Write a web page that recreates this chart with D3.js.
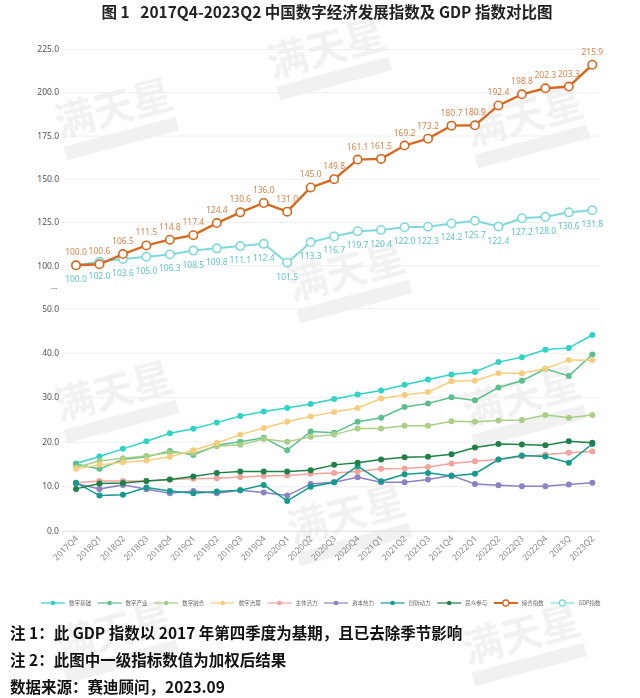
<!DOCTYPE html>
<html><head><meta charset="utf-8">
<script src="https://cdn.jsdelivr.net/npm/d3@7"></script>
<style>
html,body{margin:0;padding:0;background:#fff;}
svg{display:block;font-family:"Noto Sans CJK SC","Noto Sans",sans-serif;}
</style></head>
<body><svg id="c" width="640" height="698"></svg>
<script>
const categories = ["2017Q4","2018Q1","2018Q2","2018Q3","2018Q4","2019Q1","2019Q2","2019Q3","2019Q4","2020Q1","2020Q2","2020Q3","2020Q4","2021Q1","2021Q2","2021Q3","2021Q4","2022Q1","2022Q2","2022Q3","2022Q4","2023Q","2023Q2"];
const compositeIndex = [100.0,100.6,106.5,111.5,114.8,117.4,124.4,130.6,136.0,131.0,145.0,149.8,161.1,161.5,169.2,173.2,180.7,180.9,192.4,198.8,202.3,203.3,215.9];
const gdpIndex = [100.0,102.0,103.6,105.0,106.3,108.5,109.8,111.1,112.4,101.5,113.3,116.7,119.7,120.4,122.0,122.3,124.2,125.7,122.4,127.2,128.0,130.6,131.8];
const digitalBase = [15.1,16.7,18.4,20.1,21.9,22.9,24.3,25.8,26.8,27.6,28.5,29.6,30.6,31.5,32.8,34.0,35.1,35.7,37.9,39.0,40.7,41.1,44.0];
const digitalIndustry = [15.0,13.9,16.0,16.6,17.9,17.0,19.2,20.0,20.9,18.1,22.3,22.0,24.5,25.4,27.8,28.6,30.0,29.3,32.2,33.7,36.4,34.8,39.6];
const digitalFusion = [14.2,15.7,16.3,16.8,17.6,17.4,19.0,19.3,20.6,20.0,21.1,21.6,23.0,23.0,23.6,23.6,24.6,24.5,24.8,24.9,26.0,25.4,26.0];
const digitalGovernance = [13.9,14.8,15.4,15.8,16.6,18.1,19.7,21.6,23.1,24.5,25.7,26.7,27.6,29.7,30.5,31.2,33.6,33.7,35.4,35.4,36.4,38.4,38.3];
const entityVitality = [10.8,11.2,11.2,11.2,11.5,11.7,11.8,12.1,12.3,12.4,12.8,13.0,13.3,13.9,14.0,14.3,15.1,15.6,16.0,16.7,17.1,17.5,17.8];
const capitalHeat = [10.6,9.4,10.3,9.3,8.4,8.9,8.4,9.1,8.6,7.9,10.5,10.9,12.0,10.9,10.9,11.5,12.4,10.5,10.2,10.0,10.0,10.4,10.8];
const innovationPower = [10.8,7.9,8.1,9.7,8.9,8.4,8.8,9.1,10.3,6.7,9.9,10.9,14.5,11.1,12.7,13.0,12.3,12.8,16.0,16.9,16.7,15.3,19.5];
const publicParticipation = [9.4,10.6,10.7,11.2,11.5,12.2,13.0,13.3,13.3,13.3,13.6,14.8,15.3,16.0,16.5,16.6,17.2,18.7,19.5,19.4,19.2,20.1,19.8];
const upperTicks = [100,125,150,175,200,225];
const lowerTicks = [0,10,20,30,40,50];
const seriesNames = ["数字基础","数字产业","数字融合","数字治理","主体活力","资本热力","创新动力","民众参与","综合指数","GDP指数"];
const title = "图 1\u00a0\u00a0\u00a02017Q4-2023Q2 中国数字经济发展指数及 GDP 指数对比图";
const notes = ["注 1：此 GDP 指数以 2017 年第四季度为基期，且已去除季节影响","注 2：此图中一级指标数值为加权后结果","数据来源：赛迪顾问，2023.09"];

const colors = ["#2fd3c8","#5dbf8c","#a8cf85","#f5cd7c","#f2a39a","#8c82c2","#159a8f","#1f8048","#d6691f","#7fd9dc"];
const lowerData = [digitalBase,digitalIndustry,digitalFusion,digitalGovernance,entityVitality,capitalHeat,innovationPower,publicParticipation];

const svg = d3.select("#c");
svg.append("rect").attr("width",640).attr("height",698).attr("fill","#fff");

// watermarks
const wm = [[330,62],[117,122],[528,130],[350,285],[117,405],[525,410],[350,528],[117,645],[525,648]];
const wg = svg.append("g").attr("opacity",0.055);
wm.forEach(([x,y])=>{
  const g = wg.append("g").attr("transform",`translate(${x},${y}) rotate(-15)`);
  g.append("text").attr("text-anchor","middle").attr("font-size",40).attr("font-weight","bold").attr("fill","#000").text("满天星");
  g.append("rect").attr("x",-58).attr("y",10).attr("width",116).attr("height",14).attr("fill","#000");
});

svg.append("text").attr("x",327).attr("y",18).attr("text-anchor","middle").attr("font-size",15.5).attr("font-weight","bold").attr("fill","#222").text(title);

const x = d3.scalePoint().domain(categories).range([76,592.3]);
const yU = d3.scaleLinear().domain([100,225]).range([265.3,49]);
const yL = d3.scaleLinear().domain([0,50]).range([530.7,308.3]);
const gridX0 = 62, gridX1 = 600;

// grids + y axis labels
const axU = d3.axisLeft(yU).tickValues(upperTicks).tickFormat(d3.format(".1f")).tickSize(-(gridX1-gridX0)).tickPadding(3);
const gU = svg.append("g").attr("transform",`translate(${gridX0},0)`).call(axU);
const axL = d3.axisLeft(yL).tickValues(lowerTicks).tickFormat(d3.format(".1f")).tickSize(-(gridX1-gridX0)).tickPadding(3);
const gL = svg.append("g").attr("transform",`translate(${gridX0},0)`).call(axL);
[gU,gL].forEach(g=>{
  g.select(".domain").remove();
  g.selectAll(".tick line").attr("stroke","#eeeeee").attr("stroke-width",1);
  g.selectAll(".tick text").attr("fill","#555").attr("font-size",8.5).attr("font-family","'Noto Sans',sans-serif");
});
gL.selectAll(".tick").filter(d=>d===0).select("line").attr("stroke","#dcdcdc");
svg.append("text").attr("x",54).attr("y",289).attr("text-anchor","middle").attr("font-size",8).attr("fill","#555").text("...");

// x axis labels
const axX = d3.axisBottom(x).tickSize(0).tickPadding(0);
const gX = svg.append("g").attr("transform","translate(0,537)").call(axX);
gX.select(".domain").remove();
gX.selectAll(".tick text").attr("text-anchor","end").attr("dy","0.35em").attr("transform","rotate(-45)")
  .attr("fill","#888").attr("font-size",8.5).attr("font-family","'Noto Sans',sans-serif");

// lower lines
lowerData.forEach((arr,k)=>{
  const line = d3.line().x((d,i)=>x(categories[i])).y(d=>yL(d));
  svg.append("path").datum(arr).attr("d",line).attr("fill","none").attr("stroke",colors[k]).attr("stroke-width",1.5);
  svg.append("g").selectAll("circle").data(arr).join("circle")
    .attr("cx",(d,i)=>x(categories[i])).attr("cy",d=>yL(d)).attr("r",3).attr("fill",colors[k]);
});

// upper lines
function upper(arr,col,lw,labelCol,dy){
  const line = d3.line().x((d,i)=>x(categories[i])).y(d=>yU(d));
  svg.append("path").datum(arr).attr("d",line).attr("fill","none").attr("stroke",col).attr("stroke-width",lw);
  svg.append("g").selectAll("circle").data(arr).join("circle")
    .attr("cx",(d,i)=>x(categories[i])).attr("cy",d=>yU(d)).attr("r",4.2)
    .attr("fill","#fff").attr("stroke",col).attr("stroke-width",1.6);
  svg.append("g").selectAll("text").data(arr).join("text")
    .attr("x",(d,i)=>x(categories[i])).attr("y",d=>yU(d)+dy).attr("text-anchor","middle")
    .attr("font-size",8.5).attr("fill",labelCol).attr("font-family","'Noto Sans',sans-serif").text(d=>d.toFixed(1));
}
upper(gdpIndex,colors[9],2,"#5cc3cc",17);
upper(compositeIndex,colors[8],2.4,"#d9844a",-10);

// legend
const lg = svg.append("g").attr("transform","translate(41,603)");
seriesNames.forEach((n,k)=>{
  const g = lg.append("g").attr("transform",`translate(${k*56.6},0)`);
  g.append("line").attr("x1",0).attr("x2",24).attr("y1",0).attr("y2",0).attr("stroke",colors[k]).attr("stroke-width",k===8?2:1.2);
  if(k<8) g.append("circle").attr("cx",12).attr("cy",0).attr("r",2.3).attr("fill",colors[k]);
  else g.append("circle").attr("cx",12).attr("cy",0).attr("r",3).attr("fill","#fff").attr("stroke",colors[k]).attr("stroke-width",1.3);
  g.append("text").attr("x",28).attr("y",2).attr("font-size",5.5).attr("fill","#666").text(n);
});

// notes
notes.forEach((t,i)=>{
  svg.append("text").attr("x",10).attr("y",639+i*27).attr("font-size",15.5).attr("font-weight","bold").attr("fill","#111").text(t);
});
</script></body></html>
